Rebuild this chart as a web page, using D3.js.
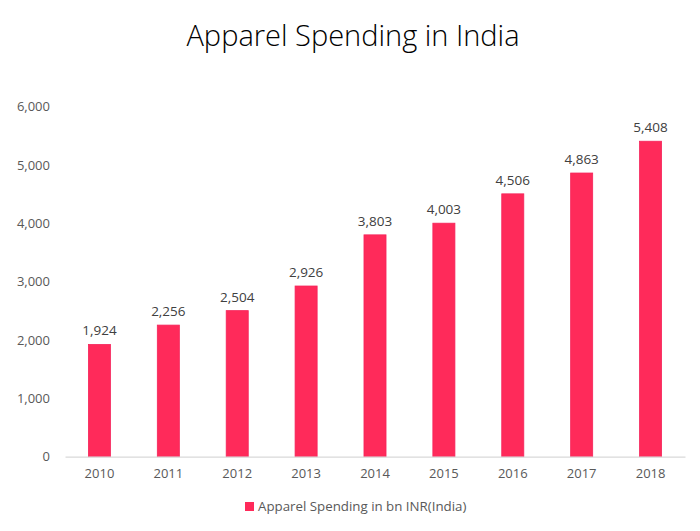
<!DOCTYPE html>
<html>
<head>
<meta charset="utf-8">
<script src="https://cdn.jsdelivr.net/npm/d3@7"></script>
<style>
  body { margin: 0; background: #fff; }
  text { font-family: "Open Sans", "Segoe UI", sans-serif; }
</style>
</head>
<body>
<svg id="chart" width="700" height="531"></svg>
<script>
// data
const years = ["2010", "2011", "2012", "2013", "2014", "2015", "2016", "2017", "2018"];
const spending = [1924, 2256, 2504, 2926, 3803, 4003, 4506, 4863, 5408];
const yTicks = [0, 1000, 2000, 3000, 4000, 5000, 6000];
const seriesName = "Apparel Spending in bn INR(India)";

const barColor = "#ff2a5a";
const svg = d3.select("#chart");

const x = d3.scaleBand()
    .domain(years)
    .range([65, 685])
    .paddingInner(0.68)
    .paddingOuter(0.34);

const y = d3.scaleLinear()
    .domain([0, 6000])
    .range([456.7, 106.7]);

const fmt = d3.format(",");

// title
svg.append("text")
    .attr("x", 353)
    .attr("y", 46)
    .attr("text-anchor", "middle")
    .attr("font-size", "29px")
    .attr("font-weight", 300)
    .attr("fill", "#000")
    .text("Apparel Spending in India");

// y axis labels, no line
const yAxis = svg.append("g")
    .attr("transform", "translate(58,0)")
    .call(d3.axisLeft(y).tickValues(yTicks).tickFormat(fmt).tickSize(0).tickPadding(8));
yAxis.select(".domain").remove();
yAxis.selectAll("text")
    .attr("font-size", "13px")
    .attr("fill", "#595959")
    .attr("font-family", "Open Sans, sans-serif");

// bars
svg.append("g")
    .selectAll("rect")
    .data(spending)
    .join("rect")
    .attr("x", (d, i) => x(years[i]))
    .attr("y", d => y(d))
    .attr("width", x.bandwidth())
    .attr("height", d => y(0) - y(d))
    .attr("fill", barColor)
    .attr("stroke", "#f5245a")
    .attr("stroke-width", 0.8);

// value labels
svg.append("g")
    .selectAll("text")
    .data(spending)
    .join("text")
    .attr("x", (d, i) => x(years[i]) + x.bandwidth() / 2)
    .attr("y", d => y(d) - 9)
    .attr("text-anchor", "middle")
    .attr("font-size", "13.5px")
    .attr("fill", "#404040")
    .text(d => fmt(d));

// x axis
const xAxis = svg.append("g")
    .attr("transform", "translate(0," + y(0) + ")")
    .call(d3.axisBottom(x).tickSize(0).tickPadding(12));
xAxis.select(".domain")
    .attr("stroke", "#d9d9d9")
    .attr("stroke-width", 1.2);
xAxis.selectAll("text")
    .attr("font-size", "13px")
    .attr("fill", "#595959")
    .attr("font-family", "Open Sans, sans-serif");

// legend
const legend = svg.append("g").attr("transform", "translate(245,502)");
legend.append("rect")
    .attr("width", 9)
    .attr("height", 9)
    .attr("fill", barColor);
legend.append("text")
    .attr("x", 13)
    .attr("y", 9)
    .attr("font-size", "13.3px")
    .attr("fill", "#595959")
    .text(seriesName);
</script>
</body>
</html>
